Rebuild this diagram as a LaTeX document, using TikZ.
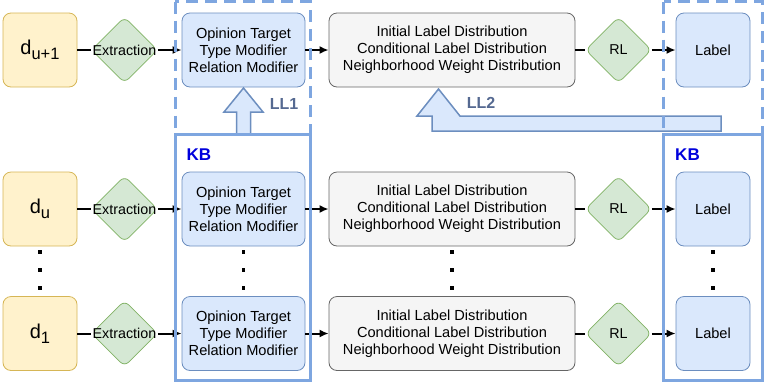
\documentclass[tikz,border=0pt]{standalone}
\usepackage{fontspec}
\setmainfont{Liberation Sans}
\usepackage{xcolor}
\usepackage{tikz}
\usetikzlibrary{shapes.geometric, positioning, arrows.meta}

\definecolor{docfill}{HTML}{FFF2CC}
\definecolor{docline}{HTML}{D6B656}
\definecolor{opfill}{HTML}{DAE8FC}
\definecolor{opline}{HTML}{6C8EBF}
\definecolor{exfill}{HTML}{D5E8D4}
\definecolor{exline}{HTML}{82B366}
\definecolor{distfill}{HTML}{F5F5F5}
\definecolor{distline}{HTML}{666666}
\definecolor{framecol}{HTML}{7EA6E0}
\definecolor{llcol}{RGB}{85,105,145}
\definecolor{kbcol}{RGB}{0,0,220}

\begin{document}
\begin{tikzpicture}[>={Latex[length=9pt,width=8pt]}, x=1pt, y=-1pt,
    box/.style={draw, rounded corners=8pt, line width=0.8pt, minimum height=74pt,
        inner sep=0pt, align=center, font=\fontsize{14.6}{17}\selectfont},
    docbox/.style={box, fill=docfill, draw=docline, minimum width=74pt,
        font=\fontsize{20}{24}\selectfont},
    opbox/.style={box, fill=opfill, draw=opline, minimum width=123pt},
    distbox/.style={box, fill=distfill, draw=distline, minimum width=246pt},
    labbox/.style={box, fill=opfill, draw=opline, minimum width=74pt},
    stepdia/.style={diamond, draw=exline, fill=exfill, line width=0.8pt, rounded corners=6pt,
        minimum width=66pt, minimum height=66pt, inner sep=0pt,
        label={[font=\fontsize{14.3}{17}\selectfont]center:#1}},
    conn/.style={line width=2pt},
    kbframe/.style={draw=framecol, line width=3pt},
    llframe/.style={kbframe, dash pattern=on 12pt off 7pt},
    blockarrow/.style={fill=opfill, draw=opline, line width=1.5pt, line join=miter},
    lltext/.style={text=llcol, font=\fontsize{16}{19}\selectfont\bfseries},
    kbtext/.style={text=kbcol, font=\fontsize{17}{20}\selectfont\bfseries}]
    \useasboundingbox (0,0) rectangle (766,384);

    % Ba dòng tài liệu
    \foreach \r/\y/\s in {t/50/u+1, m/209/u, b/333.5/1} {
        \node[docbox] (d\r) at (40,\y) {d\raisebox{-5pt}{\fontsize{16.5}{16}\selectfont\s}};
        \node[stepdia=Extraction] (ex\r) at (124.5,\y) {};
        \node[opbox] (op\r) at (243.5,\y) {Opinion Target\\Type Modifier\\Relation Modifier};
        \node[distbox] (dist\r) at (452,\y) {Initial Label Distribution\\Conditional Label Distribution\\Neighborhood Weight Distribution};
        \node[stepdia=RL] (rl\r) at (618.5,\y) {};
        \node[labbox] (lab\r) at (713,\y) {Label};
        \draw[conn] (d\r) -- (ex\r);
        \draw[conn, ->] (ex\r) -- (op\r);
        \draw[conn, ->] (op\r) -- (dist\r);
        \draw[conn] (dist\r) -- (rl\r);
        \draw[conn, ->] (rl\r) -- (lab\r);
    }

    % Dấu chấm dọc
    \foreach \x in {40,243.5,452,713} {
        \foreach \y in {252,270,288} {
            \fill (\x-1.7,\y-1.7) rectangle (\x+1.7,\y+1.7);
        }
    }

    % Mũi tên LL1 và LL2
    \draw[blockarrow] (243.5,88) -- (263,112) -- (250.5,112) -- (250.5,134)
        -- (236.5,134) -- (236.5,112) -- (224,112) -- cycle;
    \node[lltext] (ll1) at (284,104) {LL1};
    \draw[blockarrow] (438.5,89) -- (460,116) -- (721,116) -- (721,131)
        -- (432,131) -- (432,116) -- (417,116) -- cycle;
    \node[lltext] (ll2) at (481,103) {LL2};

    % Khung KB
    \draw[llframe] (175,1.5) rectangle (310.5,134);
    \draw[kbframe] (175,134) rectangle (310.5,380);
    \draw[llframe] (663.5,1.5) rectangle (762.5,134);
    \draw[kbframe] (663.5,134) rectangle (762.5,380);
    \node[kbtext] (kb1) at (199,155) {KB};
    \node[kbtext] (kb2) at (687.5,155) {KB};
\end{tikzpicture}
\end{document}
